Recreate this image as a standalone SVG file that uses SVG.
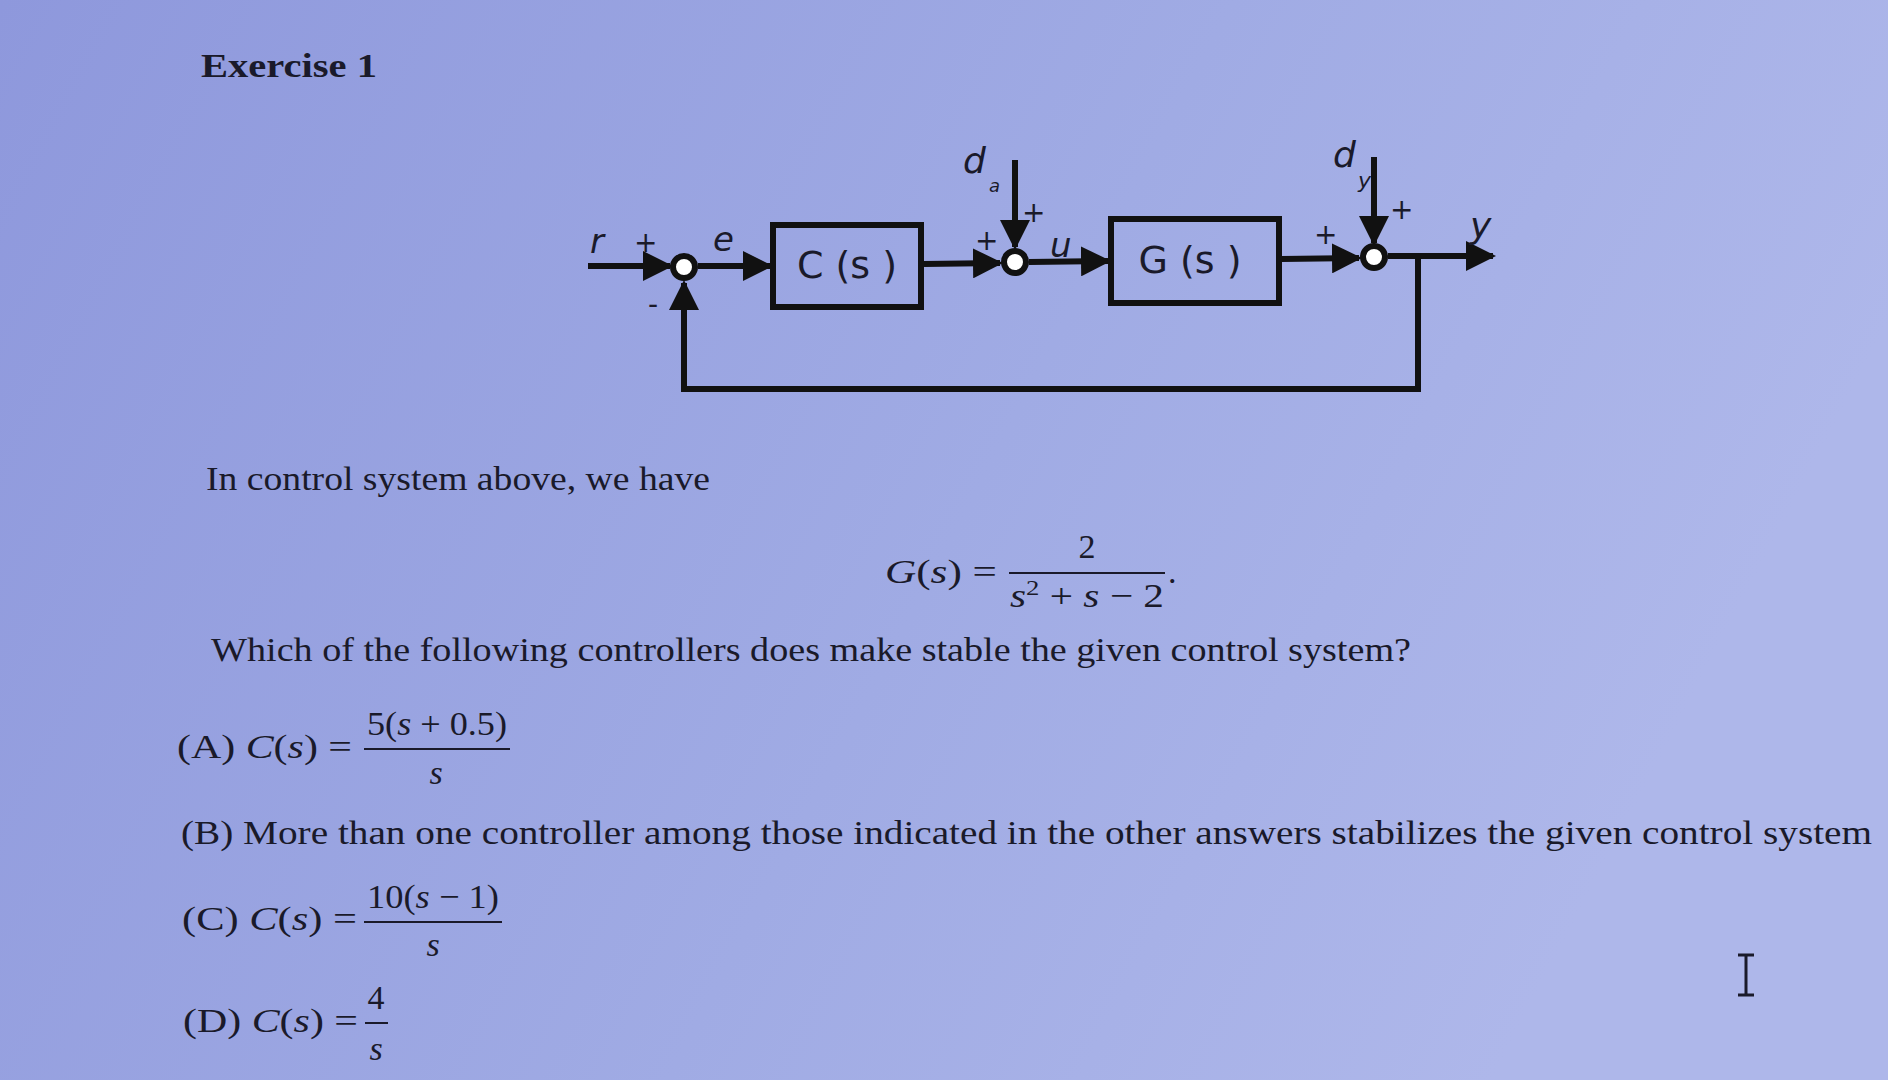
<svg xmlns="http://www.w3.org/2000/svg" width="1888" height="1080" viewBox="0 0 1888 1080">
<defs>
<linearGradient id="bg" x1="0" y1="0" x2="1" y2="0.3">
<stop offset="0" stop-color="#8e98dc"/><stop offset="0.6" stop-color="#a0abe4"/><stop offset="1" stop-color="#aeb7ea"/>
</linearGradient>
<marker id="ar" viewBox="0 0 10 10" refX="9" refY="5" markerWidth="5" markerHeight="5" orient="auto"><path d="M0,0 L10,5 L0,10 z" fill="#111"/></marker>
<style>
.w{stroke:#111;stroke-width:6;fill:none}
.b{fill:none;stroke:#111;stroke-width:6}
.j{fill:#fff;stroke:#111;stroke-width:6}
.s{font-family:"DejaVu Sans",sans-serif;fill:#1a1a2a}
.t{font-family:"Liberation Serif",serif;fill:#1a1a2a;font-size:34px}
.i{font-style:italic}
</style>
</defs>
<rect width="1888" height="1080" fill="url(#bg)"/>
<text x="201" y="77" class="t" font-weight="bold" font-size="34" textLength="176" lengthAdjust="spacingAndGlyphs">Exercise 1</text>
<g id="connectors">
<line class="w" x1="588" y1="266" x2="670" y2="266" marker-end="url(#ar)"/>
<line class="w" x1="698" y1="266" x2="770" y2="266" marker-end="url(#ar)"/>
<line class="w" x1="924" y1="264" x2="1000" y2="263" marker-end="url(#ar)"/>
<line class="w" x1="1029" y1="262" x2="1108" y2="261" marker-end="url(#ar)"/>
<line class="w" x1="1282" y1="259" x2="1359" y2="258" marker-end="url(#ar)"/>
<line class="w" x1="1388" y1="256" x2="1493" y2="256" marker-end="url(#ar)"/>
<line class="w" x1="1015" y1="160" x2="1015" y2="247" marker-end="url(#ar)"/>
<line class="w" x1="1374" y1="157" x2="1374" y2="243" marker-end="url(#ar)"/>
<polyline class="w" points="1418,256 1418,389 684,389 684,283" marker-end="url(#ar)"/>
</g>
<g id="sum1"><circle class="j" cx="684" cy="267" r="11"/></g>
<g id="C"><rect class="b" x="773" y="225" width="148" height="82"/><text class="s" x="847" y="278" font-size="38" text-anchor="middle">C (s )</text></g>
<g id="sum2"><circle class="j" cx="1015" cy="262" r="11"/></g>
<g id="G"><rect class="b" x="1111" y="219" width="168" height="84"/><text class="s" x="1190" y="273" font-size="38" text-anchor="middle">G (s )</text></g>
<g id="sum3"><circle class="j" cx="1374" cy="257" r="11"/></g>
<g id="labels" class="s">
<text x="590" y="253" font-size="34" font-style="italic">r</text>
<text x="634" y="252" font-size="28">+</text>
<text x="648" y="314" font-size="28">-</text>
<text x="713" y="251" font-size="34" font-style="italic">e</text>
<text x="975" y="250" font-size="28">+</text>
<text x="1022" y="222" font-size="28">+</text>
<text x="1050" y="257" font-size="34" font-style="italic">u</text>
<text x="963" y="173" font-size="36" font-style="italic">d</text>
<text x="989" y="192" font-size="18" font-style="italic">a</text>
<text x="1314" y="244" font-size="28">+</text>
<text x="1390" y="219" font-size="28">+</text>
<text x="1333" y="167" font-size="36" font-style="italic">d</text>
<text x="1358" y="188" font-size="22" font-style="italic">y</text>
<text x="1470" y="238" font-size="36" font-style="italic">y</text>
</g>
<text x="206" y="490" class="t" textLength="504" lengthAdjust="spacingAndGlyphs">In control system above, we have</text>
<text x="885" y="583" class="t" textLength="112" lengthAdjust="spacingAndGlyphs"><tspan class="i">G</tspan>(<tspan class="i">s</tspan>) =</text>
<text x="1087" y="558" class="t" text-anchor="middle">2</text>
<line x1="1009" y1="573" x2="1165" y2="573" stroke="#1a1a2a" stroke-width="2"/>
<text x="1010" y="607" class="t" textLength="154" lengthAdjust="spacingAndGlyphs"><tspan class="i">s</tspan><tspan font-size="22" dy="-12">2</tspan><tspan dy="12"> + </tspan><tspan class="i">s</tspan> − 2</text>
<text x="1168" y="583" class="t">.</text>
<text x="211" y="661" class="t" textLength="1200" lengthAdjust="spacingAndGlyphs">Which of the following controllers does make stable the given control system?</text>
<text x="177" y="758" class="t" textLength="175" lengthAdjust="spacingAndGlyphs">(A) <tspan class="i">C</tspan>(<tspan class="i">s</tspan>) =</text>
<text x="367" y="735" class="t" textLength="140" lengthAdjust="spacingAndGlyphs">5(<tspan class="i">s</tspan> + 0.5)</text>
<line x1="364" y1="749" x2="510" y2="749" stroke="#1a1a2a" stroke-width="2"/>
<text x="436" y="784" class="t i" text-anchor="middle">s</text>
<text x="181" y="844" class="t" textLength="1691" lengthAdjust="spacingAndGlyphs">(B) More than one controller among those indicated in the other answers stabilizes the given control system</text>
<text x="182" y="930" class="t" textLength="175" lengthAdjust="spacingAndGlyphs">(C) <tspan class="i">C</tspan>(<tspan class="i">s</tspan>) =</text>
<text x="367" y="908" class="t" textLength="132" lengthAdjust="spacingAndGlyphs">10(<tspan class="i">s</tspan> − 1)</text>
<line x1="364" y1="922" x2="502" y2="922" stroke="#1a1a2a" stroke-width="2"/>
<text x="433" y="956" class="t i" text-anchor="middle">s</text>
<text x="183" y="1032" class="t" textLength="175" lengthAdjust="spacingAndGlyphs">(D) <tspan class="i">C</tspan>(<tspan class="i">s</tspan>) =</text>
<text x="376" y="1009" class="t" text-anchor="middle">4</text>
<line x1="365" y1="1023" x2="388" y2="1023" stroke="#1a1a2a" stroke-width="2"/>
<text x="376" y="1060" class="t i" text-anchor="middle">s</text>
<path d="M1738,955 h16 M1738,995 h16 M1746,955 v40" stroke="#1a1a2a" stroke-width="3" fill="none"/>
</svg>
